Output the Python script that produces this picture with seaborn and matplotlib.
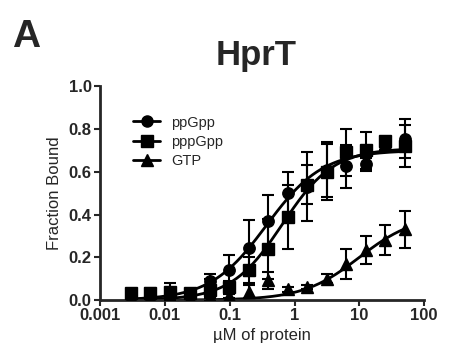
import numpy as np
import pandas as pd
import seaborn as sns
import matplotlib.pyplot as plt
from matplotlib.lines import Line2D

# Data
conc = [0.003, 0.006, 0.012, 0.024, 0.049, 0.098, 0.195, 0.39, 0.78, 1.56, 3.125, 6.25, 12.5, 25, 50]

ppgpp = [0.02, 0.02, 0.023, 0.028, 0.09, 0.14, 0.243, 0.37, 0.50, 0.53, 0.61, 0.626, 0.635, 0.72, 0.755]
ppgpp_sd = [0.01, 0.01, 0.02, 0.02, 0.03, 0.07, 0.13, 0.12, 0.10, 0.16, 0.13, 0.10, 0.03, 0.02, 0.09]

pppgpp = [0.035, 0.035, 0.04, 0.031, 0.047, 0.059, 0.14, 0.24, 0.39, 0.54, 0.60, 0.69, 0.70, 0.745, 0.72]
pppgpp_sd = [0.01, 0.02, 0.04, 0.01, 0.05, 0.03, 0.06, 0.14, 0.15, 0.09, 0.13, 0.11, 0.085, 0.01, 0.10]

gtp = [0.01, 0.01, 0.01, 0.01, 0.015, 0.02, 0.039, 0.093, 0.05, 0.062, 0.10, 0.17, 0.234, 0.28, 0.33]
gtp_sd = [0.005, 0.005, 0.005, 0.005, 0.005, 0.01, 0.03, 0.04, 0.01, 0.01, 0.02, 0.07, 0.065, 0.07, 0.085]

# Fitted binding curves (Bmax, Kd, Hill slope)
fit_bmax = [0.70, 0.71, 0.40]
fit_kd = [0.37, 0.65, 10.0]
fit_hill = [1.0, 1.1, 1.0]

names = ["ppGpp", "pppGpp", "GTP"]
markers = ["o", "s", "^"]
x_ticks = [0.001, 0.01, 0.1, 1, 10, 100]
x_ticklabels = ["0.001", "0.01", "0.1", "1", "10", "100"]
y_ticks = [0.0, 0.2, 0.4, 0.6, 0.8, 1.0]

sns.set_style("ticks")
plt.rcParams["font.family"] = ["Liberation Sans", "DejaVu Sans"]

fig = plt.figure(figsize=(4.74, 3.62), dpi=100)
ax = fig.add_axes([0.211, 0.171, 0.684, 0.591])

xs = np.logspace(np.log10(conc[0]), np.log10(conc[-1]), 200)
curves = []
for name, b, kd, h in zip(names, fit_bmax, fit_kd, fit_hill):
    curves.append(pd.DataFrame({"x": xs, "y": b * xs**h / (kd**h + xs**h), "ligand": name}))
curve_df = pd.concat(curves)

sns.lineplot(data=curve_df, x="x", y="y", units="ligand", estimator=None,
             color="black", linewidth=2, ax=ax, legend=False)

series = [(ppgpp, ppgpp_sd), (pppgpp, pppgpp_sd), (gtp, gtp_sd)]
for (vals, sd), m in zip(series, markers):
    ms = 9 if m == "^" else 8.2
    ax.errorbar(conc, vals, yerr=sd, fmt=m, color="black", markersize=ms,
                capsize=4, elinewidth=1.5, capthick=1.5, zorder=3)

ax.set_xscale("log")
ax.set_xlim(0.001, 100)
ax.set_ylim(0, 1.0)
ax.set_xticks(x_ticks)
ax.set_xticklabels(x_ticklabels)
ax.minorticks_off()
ax.set_yticks(y_ticks)
ax.set_yticklabels([f"{v:.1f}" for v in y_ticks])
for lab in ax.get_xticklabels() + ax.get_yticklabels():
    lab.set_fontweight("bold")
ax.tick_params(axis="both", labelsize=12, width=1.5, length=4, direction="out", pad=2)
for s in ["left", "bottom"]:
    ax.spines[s].set_linewidth(2)
sns.despine(ax=ax)

ax.set_xlabel("\u00b5M of protein", fontsize=12, labelpad=3)
ax.set_ylabel("Fraction Bound", fontsize=12, labelpad=5)
ax.set_title("HprT", fontsize=25, fontweight="bold", pad=15, x=0.48)
fig.text(0.025, 0.87, "A", fontsize=28, fontweight="bold")

handles = [Line2D([0], [0], color="black", linewidth=2, marker=m, markersize=8)
           for m in markers]
ax.legend(handles, names, loc="upper left", bbox_to_anchor=(0.085, 0.89),
          frameon=False, fontsize=10.5, handlelength=1.8, handletextpad=0.8,
          labelspacing=0.35, borderaxespad=0)

fig.savefig("out.png", dpi=100)
